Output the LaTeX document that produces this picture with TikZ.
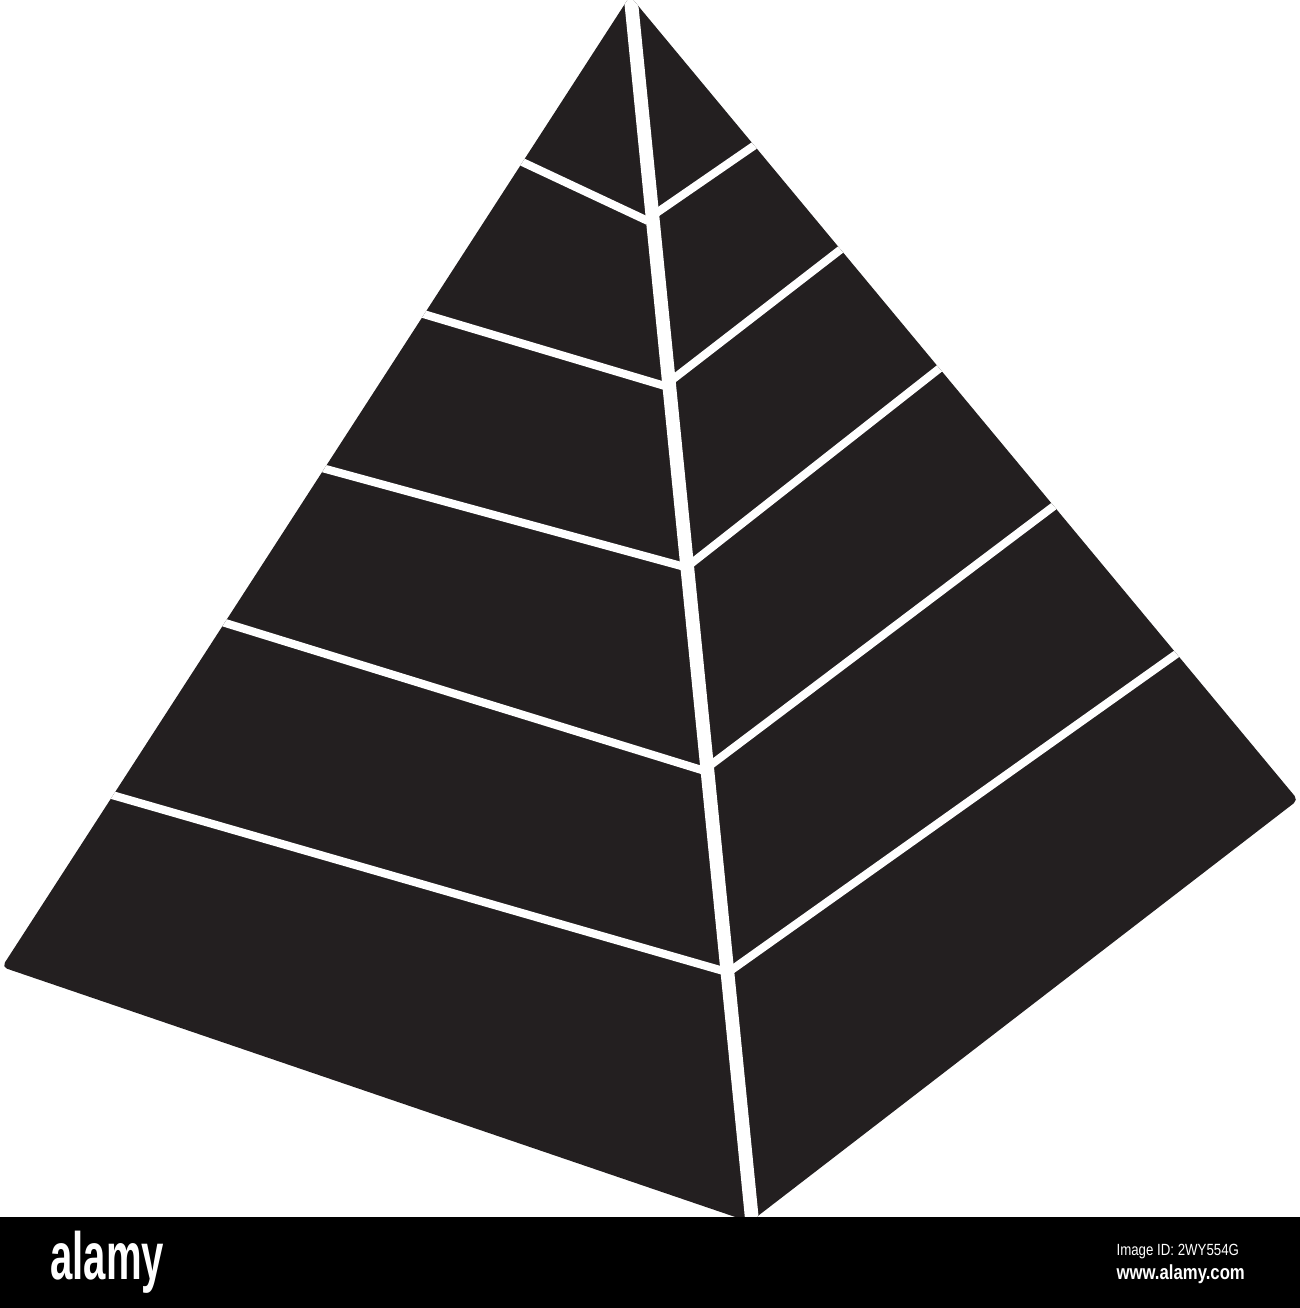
\documentclass[tikz,border=0pt]{standalone}
\usepackage{fontspec}
\setmainfont{Liberation Sans}
\usetikzlibrary{calc}
\definecolor{pyr}{HTML}{231F20}
\tikzset{
  ridge/.style={white,line width=3.9pt},
  band/.style={white,line width=2.3pt},
}
\begin{document}
\begin{tikzpicture}[x=0.01cm,y=-0.01cm]
\useasboundingbox (0,0) rectangle (1300,1308);
% pyramid corners
\coordinate (apex) at (630,-4);
\coordinate (L) at (2,967);
\coordinate (B) at (750,1222);
\coordinate (R) at (1298,800);
\fill[pyr,rounded corners=1.5pt] (apex) -- (R) -- (B) -- (L) -- cycle;
% band lines, clipped to the pyramid
\begin{scope}
\clip (apex) -- (R) -- (B) -- (L) -- cycle;
\coordinate (a1) at (518,160); \coordinate (b1) at (648,221);
\coordinate (a2) at (420,313); \coordinate (b2) at (665,386);
\coordinate (a3) at (322,468); \coordinate (b3) at (685,567);
\coordinate (a4) at (222,622); \coordinate (b4) at (705,771);
\coordinate (a5) at (112,795); \coordinate (b5) at (727,972);
\coordinate (c1) at (652,216); \coordinate (d1) at (755,145);
\coordinate (c2) at (668,383); \coordinate (d2) at (840,250);
\coordinate (c3) at (688,566); \coordinate (d3) at (940,368);
\coordinate (c4) at (708,767); \coordinate (d4) at (1058,503);
\coordinate (c5) at (730,971); \coordinate (d5) at (1175,655);
\foreach \i in {1,...,5}{
  \draw[band] ($(a\i)!-0.08!(b\i)$) -- (b\i);
  \draw[band] (c\i) -- ($(d\i)!-0.08!(c\i)$);
}
\coordinate (rt) at (630,-10);
\coordinate (rb) at (753,1230);
\draw[ridge] (rt) -- (rb);
\end{scope}
% bottom banner
\fill[black] (0,1217) rectangle (1300,1308);
\node[white,font=\bfseries,inner sep=0pt,anchor=west,xscale=0.6] (logo) at (50,1262) {\fontsize{19}{19}\selectfont alamy};
\node[white,inner sep=0pt,anchor=west,xscale=0.82] (imgid) at (1116,1252) {\fontsize{4.6}{5}\selectfont Image ID: 2WY554G};
\node[white,font=\bfseries,inner sep=0pt,anchor=west,xscale=0.82] (www) at (1116,1274) {\fontsize{5.8}{6}\selectfont www.alamy.com};
\end{tikzpicture}
\end{document}
